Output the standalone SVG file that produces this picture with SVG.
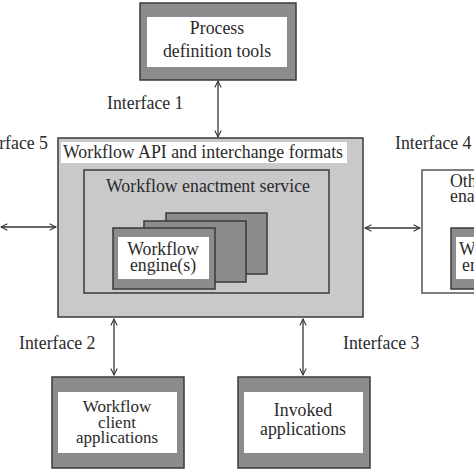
<svg xmlns="http://www.w3.org/2000/svg" width="474" height="474" viewBox="0 0 474 474">
<defs>
<marker id="ah" viewBox="0 0 10 10" refX="9" refY="5" markerWidth="8" markerHeight="8" orient="auto-start-reverse" markerUnits="userSpaceOnUse">
<path d="M1,1 L9,5 L1,9" fill="none" stroke="#333" stroke-width="1.3"/>
</marker>
</defs>
<style>
text{font-family:"Liberation Serif","Times New Roman",serif;font-size:17.8px;fill:#2a2a2a}
.c{text-anchor:middle}
.s{font-size:17px}
.dark{fill:#8c8c8e;stroke:#3a3a3a;stroke-width:1.5}
.light{fill:#c9c9cb;stroke:#3a3a3a;stroke-width:1.5}
.white{fill:#fff}
.wbox{fill:#fff;stroke:#555;stroke-width:1.5}
.conn{stroke:#333;stroke-width:1.3;fill:none;marker-start:url(#ah);marker-end:url(#ah)}
</style>
<rect width="474" height="474" fill="#fff"/>
<g id="process-definition-tools">
<rect class="dark" x="140" y="3" width="156" height="77"/>
<rect class="white" x="147" y="17" width="140" height="50"/>
<text class="c" x="217" y="34">Process</text>
<text class="c" x="217" y="57">definition tools</text>
</g>
<g id="workflow-api">
<rect class="light" x="58" y="138" width="305" height="179"/>
<rect class="white" x="61" y="142" width="286" height="21"/>
<text x="63" y="158">Workflow API and interchange formats</text>
</g>
<g id="enactment-service">
<rect class="light" x="84" y="170" width="245" height="123"/>
<text class="c" x="208" y="192">Workflow enactment service</text>
</g>
<g id="workflow-engines">
<rect class="dark" x="166" y="213" width="101" height="61"/>
<rect class="dark" x="144" y="221" width="102" height="61"/>
<rect class="dark" x="113" y="228" width="102" height="61"/>
<rect class="white" x="118" y="237" width="91" height="42"/>
<text class="c" x="163" y="255">Workflow</text>
<text class="c" x="163" y="271">engine(s)</text>
</g>
<g id="other-enactment">
<rect class="wbox" x="422" y="170" width="70" height="123"/>
<text x="450" y="187">Other</text>
<text x="450" y="202">enactment</text>
<rect class="dark" x="451" y="228" width="40" height="61"/>
<rect class="white" x="456" y="237" width="30" height="42"/>
<text x="459" y="255">Workflow</text>
<text x="462" y="271">engine(s)</text>
</g>
<g id="client-applications">
<rect class="dark" x="52" y="377" width="132" height="91"/>
<rect class="white" x="58" y="392" width="119" height="61"/>
<text class="c s" x="117" y="412">Workflow</text>
<text class="c s" x="117" y="427.5">client</text>
<text class="c s" x="117" y="443">applications</text>
</g>
<g id="invoked-applications">
<rect class="dark" x="238" y="377" width="132" height="91"/>
<rect class="white" x="244" y="392" width="119" height="61"/>
<text class="c" x="303" y="416">Invoked</text>
<text class="c" x="303" y="435">applications</text>
</g>
<g id="connectors">
<line class="conn" x1="218" y1="81" x2="218" y2="137"/>
<line class="conn" x1="1" y1="227" x2="56" y2="227"/>
<line class="conn" x1="365" y1="228" x2="420" y2="228"/>
<line class="conn" x1="114" y1="319" x2="114" y2="375"/>
<line class="conn" x1="303" y1="319" x2="303" y2="375"/>
<text x="107" y="109">Interface 1</text>
<text x="48" y="149" text-anchor="end">Interface 5</text>
<text x="395" y="149">Interface 4</text>
<text x="19" y="349">Interface 2</text>
<text x="343" y="349">Interface 3</text>
</g>
</svg>
